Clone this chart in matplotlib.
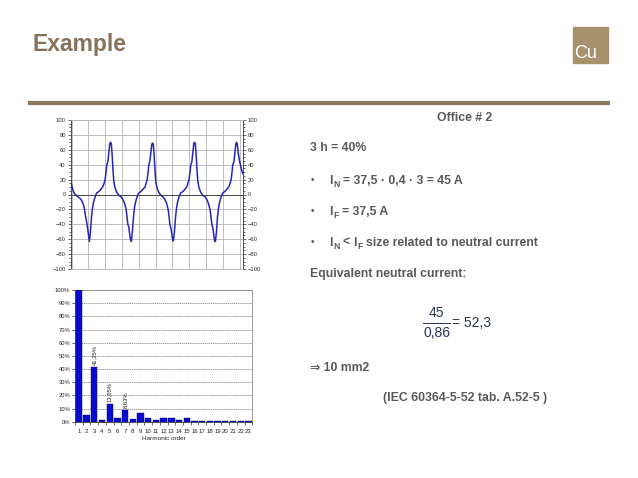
import matplotlib
matplotlib.use("Agg")
import matplotlib.pyplot as plt
from matplotlib.patches import Rectangle
from matplotlib.lines import Line2D
import numpy as np

plt.rcParams['font.family'] = ['Liberation Sans', 'DejaVu Sans']

# Current waveform (time in ms, current in A)
wave_t = [
    -0.4, 0.2, 0.8, 1.4, 2.2, 3.0, 4.0, 4.8, 5.6, 6.2, 6.6, 7.0, 7.4, 7.8, 8.2,
    8.5, 9.0, 9.5, 10.0, 10.5, 11.0, 11.5, 12.0, 13.0, 14.0, 15.0, 15.5, 16.0, 16.5,
    16.8, 17.3, 17.8, 18.2, 18.5, 18.9, 19.3, 19.7, 20.1, 20.7, 21.5, 22.5, 23.5,
    24.5, 25.3, 26.0, 26.5, 26.8, 27.3, 27.8, 28.2,
    28.5, 29.0, 29.5, 30.0, 30.5, 31.0, 31.5, 32.0, 33.0, 34.0, 35.0, 35.5, 36.0, 36.5,
    36.8, 37.3, 37.8, 38.2, 38.5, 38.9, 39.3, 39.7, 40.1, 40.7, 41.5, 42.5, 43.5,
    44.5, 45.3, 46.0, 46.5, 46.8, 47.3, 47.8, 48.2,
    48.5, 49.0, 49.5, 50.0, 50.5, 51.0, 51.5, 52.0, 53.0, 54.0, 55.0, 55.5, 56.0, 56.5,
    56.8, 57.3, 57.8, 58.2, 58.5, 58.9, 59.3, 59.7, 60.1, 60.7, 61.5, 62.5, 63.5,
    64.5, 65.3, 66.0, 66.5, 66.8, 67.3, 67.8, 68.2,
    68.5, 69.0, 69.5, 70.0, 70.5, 71.0, 71.5, 72.0, 73.0, 74.0, 75.0, 75.5, 76.0, 76.5,
    76.8, 77.3, 77.8, 78.2, 78.5, 78.9, 79.4, 80.0, 80.7, 81.5,
]
wave_i = [
    17, 11, 5, 1, -1, -3, -5, -8, -13, -20, -28, -34, -40, -48, -57,
    -63, -50, -30, -18, -10, -5, -1, 2, 4, 7, 11, 15, 20, 32,
    40, 44, 58, 68, 70, 69, 55, 35, 18, 9, 3, -1, -3,
    -7, -12, -20, -32, -40, -44, -56, -62,
    -63, -49, -30, -17, -10, -5, -1, 2, 4, 7, 10, 15, 20, 31,
    40, 45, 57, 67, 69, 68, 54, 34, 17, 9, 3, -1, -3,
    -7, -12, -20, -31, -40, -45, -55, -62,
    -62, -50, -31, -18, -10, -5, -1, 2, 4, 7, 11, 16, 21, 32,
    40, 44, 58, 68, 70, 69, 55, 35, 18, 9, 3, -1, -3,
    -7, -13, -21, -32, -40, -45, -56, -63,
    -63, -50, -30, -18, -10, -5, -1, 2, 4, 7, 11, 15, 20, 32,
    40, 44, 57, 67, 70, 68, 55, 45, 36, 28,
]

# Harmonic spectrum (% of fundamental)
orders = list(range(1, 24))
harm_pct = [100, 5, 41.35, 1.5, 13.65, 2.5, 8.63, 2, 6.8, 2.5, 1.5, 3,
            2.5, 1.3, 2.5, 0.3, 0.7, 0.6, 0.7, 0.3, 0.7, 0.6, 0.4]
bar_labels = {3: "41,35%", 5: "13,65%", 7: "8,63%"}

W, H = 638, 478
fig = plt.figure(figsize=(W / 100, H / 100), dpi=100)
fig.patch.set_facecolor('white')
renderer = fig.canvas.get_renderer()


def fx(px):
    return px / W


def fy(py):
    return 1 - py / H


brown = '#86715a'
grey_txt = '#595959'
FS = 8.8
SPACE = 3.4  # px


def rich_line(x0, y_base, pieces):
    # pieces: (text, is_subscript, gap_before_px)
    x = x0
    for txt, sub, gap in pieces:
        x += gap
        t = fig.text(fx(x), fy(y_base + (2.8 if sub else 0)), txt,
                     fontsize=6.2 if sub else FS, fontweight='bold', color=grey_txt,
                     ha='left', va='baseline')
        bb = t.get_window_extent(renderer)
        x += bb.width


# slide header
fig.text(fx(32), fy(45), "Example", fontsize=16.5, fontweight='bold',
         color=brown, va='center', ha='left')
fig.patches.append(Rectangle((fx(572.7), fy(62.7)), fx(35), 35.4 / H,
                             transform=fig.transFigure, color='#a8926e'))
fig.text(fx(586), fy(58.5), "Cu", fontsize=13, color='white', ha='center', va='baseline')
fig.lines.append(Line2D([fx(30), fx(607.7)], [fy(103), fy(103)],
                        transform=fig.transFigure, color='#8a785c', lw=3))

# waveform chart
ax1 = fig.add_axes([fx(70.7), fy(269), fx(172), 149 / H])
ax1.plot(wave_t, wave_i, color='#2626b8', lw=1.1)
ax1.set_xlim(-0.4, 81.5)
ax1.set_ylim(-100, 100)
ax1.set_xticks(np.arange(0, 81, 8))
ax1.set_xticklabels([])
ax1.set_yticks(np.arange(-100, 101, 20))
ax1.set_yticks(np.arange(-100, 101, 5), minor=True)
ax1.grid(True, color='#b4b4b4', lw=0.6)
ax1.axhline(0, color='#333333', lw=0.6)
ax1.tick_params(axis='x', length=0)
ax1.tick_params(axis='y', which='both', left=True, right=True, labelright=True,
                labelsize=4.2, colors='#333333', direction='out', width=0.5, pad=1.5)
ax1.tick_params(axis='y', which='major', length=2)
ax1.tick_params(axis='y', which='minor', length=1.2)
for s in ['top', 'bottom']:
    ax1.spines[s].set_color('#b4b4b4')
    ax1.spines[s].set_linewidth(0.6)
for s in ['left', 'right']:
    ax1.spines[s].set_color('#333333')
    ax1.spines[s].set_linewidth(0.6)

# harmonic bar chart
ax2 = fig.add_axes([fx(75), fy(421.7), fx(177.3), 131.7 / H])
ax2.bar(orders, harm_pct, width=0.82, color='#0a0ad0', edgecolor='#000080', lw=0.3, zorder=3)
for k, lab in bar_labels.items():
    ax2.text(k, harm_pct[k - 1] + 1.5, lab, rotation=90, ha='center', va='bottom',
             fontsize=4.2, color='#222222')
ax2.set_xlim(0.5, 23.5)
ax2.set_ylim(0, 100)
ax2.set_yticks(np.arange(0, 101, 10))
ax2.set_yticklabels([f"{v}%" for v in range(0, 101, 10)])
ax2.set_xticks(orders)
ax2.set_xticks(np.arange(0.5, 24, 1), minor=True)
ax2.tick_params(axis='x', which='major', length=0, labelsize=4.3, pad=5, colors='#222222')
ax2.tick_params(axis='x', which='minor', length=2, width=0.5, color='#333333')
ax2.tick_params(axis='y', labelsize=4.2, length=2, width=0.5, pad=1.5, colors='#222222')
ax2.yaxis.grid(True, color='#7a7a7a', lw=0.5, linestyle=(0, (2, 1)))
ax2.set_xlabel("Harmonic order", fontsize=4.6, labelpad=1.5, color='#222222')
for s in ['top', 'right']:
    ax2.spines[s].set_color('#8a8a8a')
    ax2.spines[s].set_linewidth(0.6)
for s in ['left', 'bottom']:
    ax2.spines[s].set_color('#333333')
    ax2.spines[s].set_linewidth(0.6)

# text on the right
kw = dict(fontsize=FS, fontweight='bold', color=grey_txt, va='center', ha='left')
fig.text(fx(436.7), fy(118.3), "Office # 2", **kw)
fig.text(fx(310), fy(148.3), "3 h = 40%", **kw)

bullet_rows = [
    (180, [("I", False, 0), ("N", True, 0.3), ("= 37,5 · 0,4 · 3 = 45 A", False, SPACE)]),
    (211, [("I", False, 0), ("F", True, 0.3), ("= 37,5 A", False, SPACE)]),
    (241.7, [("I", False, 0), ("N", True, 0.3), ("<", False, SPACE), ("I", False, SPACE),
             ("F", True, 0.3), ("size related to neutral current", False, SPACE)]),
]
for yy, pieces in bullet_rows:
    fig.text(fx(311), fy(yy), "•", fontsize=7, color=grey_txt, va='center', ha='left')
    rich_line(329.3, yy + 4.4, pieces)
fig.text(fx(310), fy(274), "Equivalent neutral current:", **kw)

navy = '#2a3552'
fig.text(fx(436.7), fy(312.7), "45", fontsize=10, color=navy, ha='center', va='center')
fig.lines.append(Line2D([fx(422.7), fx(450)], [fy(322.7), fy(322.7)],
                        transform=fig.transFigure, color=navy, lw=0.7))
fig.text(fx(436.7), fy(332.7), "0,86", fontsize=10, color=navy, ha='center', va='center')
fig.text(fx(452), fy(322.7), "= 52,3", fontsize=10, color=navy, ha='left', va='center')

fig.text(fx(310), fy(367.7), "⇒ 10 mm2", **kw)
fig.text(fx(382.7), fy(397.7), "(IEC 60364-5-52 tab. A.52-5 )", **kw)

fig.savefig("out.png", dpi=100, facecolor='white')
